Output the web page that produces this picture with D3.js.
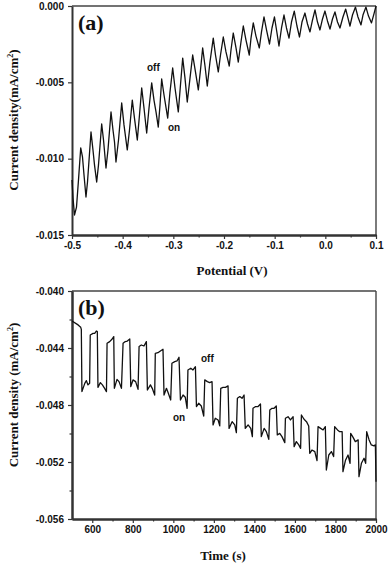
<!DOCTYPE html>
<html>
<head>
<meta charset="utf-8">
<script src="https://cdn.jsdelivr.net/npm/d3@7"></script>
<style>
    body { margin: 0; background: #fff; }
    .tick text { font-family: Arial, "Liberation Sans", sans-serif; font-weight: bold; font-size: 10px; fill: #111; }
    .axis path { stroke: #333; stroke-width: 2; }
    .axis line { stroke: #333; stroke-width: 1.2; }
    .frame { stroke: #444; stroke-width: 1.4; }
    .ttl { font-family: "Times New Roman", "Liberation Serif", serif; font-weight: bold; fill: #111; }
    .note { font-family: Arial, "Liberation Sans", sans-serif; font-weight: bold; font-size: 10px; fill: #111; }
</style>
</head>
<body>
<div id="chart"></div>
<script>

// ---- panel (a): current density vs potential, light chopped on/off ----
const potentialA = [
    -0.5000, -0.4980, -0.4951, -0.4911, -0.4872, -0.4828, -0.4793, -0.4763, -0.4724, -0.4694,
    -0.4625, -0.4586, -0.4556, -0.4513, -0.4477, -0.4414, -0.4378, -0.4329, -0.4290, -0.4230,
    -0.4191, -0.4161, -0.4132, -0.4082, -0.4019, -0.3974, -0.3909, -0.3865, -0.3810, -0.3767,
    -0.3711, -0.3668, -0.3624, -0.3579, -0.3526, -0.3480, -0.3427, -0.3382, -0.3342, -0.3297,
    -0.3263, -0.3230, -0.3184, -0.3111, -0.3066, -0.3013, -0.2967, -0.2902, -0.2859, -0.2815,
    -0.2770, -0.2725, -0.2671, -0.2618, -0.2563, -0.2507, -0.2464, -0.2421, -0.2375, -0.2330,
    -0.2277, -0.2212, -0.2168, -0.2113, -0.2069, -0.2014, -0.1961, -0.1896, -0.1862, -0.1817,
    -0.1763, -0.1718, -0.1665, -0.1619, -0.1566, -0.1501, -0.1467, -0.1422, -0.1369, -0.1303,
    -0.1260, -0.1211, -0.1161, -0.1102, -0.1053, -0.1004, -0.0954, -0.0915, -0.0865, -0.0816,
    -0.0767, -0.0717, -0.0668, -0.0613, -0.0560, -0.0510, -0.0461, -0.0402, -0.0352, -0.0303,
    -0.0254, -0.0204, -0.0155, -0.0106, -0.0056, -0.0007, 0.0042, 0.0092, 0.0141, 0.0190,
    0.0240, 0.0289, 0.0348, 0.0402, 0.0447, 0.0486, 0.0536, 0.0595, 0.0644, 0.0704,
    0.0743, 0.0802, 0.0852, 0.0911, 0.0960, 0.1000
];
const currentA = [
    -0.01140, -0.01258, -0.01369, -0.01317, -0.01140, -0.00930, -0.00989, -0.01107, -0.01251, -0.01153,
    -0.00825, -0.00943, -0.01041, -0.01153, -0.01041, -0.00773, -0.00878, -0.01061, -0.00943, -0.00694,
    -0.00812, -0.00891, -0.01022, -0.00878, -0.00635, -0.00779, -0.00943, -0.00812, -0.00616, -0.00734,
    -0.00878, -0.00714, -0.00537, -0.00668, -0.00832, -0.00668, -0.00504, -0.00616, -0.00694, -0.00793,
    -0.00648, -0.00478, -0.00583, -0.00734, -0.00563, -0.00406, -0.00537, -0.00694, -0.00517, -0.00341,
    -0.00472, -0.00629, -0.00472, -0.00321, -0.00432, -0.00550, -0.00419, -0.00275, -0.00393, -0.00524,
    -0.00367, -0.00210, -0.00321, -0.00432, -0.00321, -0.00203, -0.00301, -0.00393, -0.00288, -0.00177,
    -0.00275, -0.00367, -0.00236, -0.00131, -0.00223, -0.00321, -0.00210, -0.00111, -0.00197, -0.00275,
    -0.00170, -0.00072, -0.00157, -0.00249, -0.00144, -0.00072, -0.00177, -0.00262, -0.00144, -0.00059,
    -0.00144, -0.00210, -0.00105, -0.00033, -0.00131, -0.00203, -0.00105, -0.00046, -0.00118, -0.00170,
    -0.00092, -0.00026, -0.00105, -0.00157, -0.00085, -0.00033, -0.00098, -0.00151, -0.00085, -0.00039,
    -0.00105, -0.00144, -0.00072, -0.00020, -0.00079, -0.00131, -0.00059, -0.00007, -0.00072, -0.00124,
    -0.00059, -0.00007, -0.00066, -0.00111, -0.00052, 0.00000
];
const xTicksA = [-0.5, -0.4, -0.3, -0.2, -0.1, 0.0, 0.1];
const xMinorA = [-0.45, -0.35, -0.25, -0.15, -0.05, 0.05];
const yTicksA = [0.000, -0.005, -0.010, -0.015];

// ---- panel (b): current density vs time ----
const timeB = [
    500, 530, 543, 546,
    549, 563, 571, 579, 587,   590, 604, 612, 620, 625,
    628, 640, 650, 661, 670,   673, 686, 697, 706,
    709, 722, 732, 744,        752, 763, 773, 785,
    790, 801, 814, 826,        831, 842, 855, 867,
    872, 887, 896, 908,        911, 924, 938, 949,
    954, 966, 974, 987,        993, 1007, 1018, 1028,
    1035, 1048, 1059, 1068,    1072, 1086, 1097, 1109,
    1114, 1125, 1138, 1150,    1155, 1168, 1179, 1191,
    1196, 1207, 1221, 1229,    1234, 1245, 1257, 1270,
    1275, 1290, 1303, 1311,    1316, 1328, 1339, 1349,
    1355, 1369, 1382, 1390,    1393, 1406, 1418, 1430,
    1434, 1448, 1459, 1471,    1476, 1487, 1497, 1508,
    1513, 1525, 1536, 1550,    1553, 1566, 1578, 1591,
    1596, 1607, 1619, 1628,    1632, 1645, 1657, 1668,
    1673, 1684, 1698, 1709,    1714, 1727, 1739, 1750,
    1755, 1767, 1780, 1791,    1796, 1810, 1821, 1833,
    1837, 1849, 1862, 1872,    1875, 1887, 1898, 1912,
    1916, 1928, 1941, 1949,    1954, 1966, 1977, 1990, 1997,
    2000
];
const currentB = [
    -0.04210, -0.04238, -0.04255, -0.04269,
    -0.04706, -0.04648, -0.04629, -0.04659, -0.04648,   -0.04309, -0.04297, -0.04297, -0.04281, -0.04285,
    -0.04676, -0.04643, -0.04659, -0.04683, -0.04706,   -0.04367, -0.04355, -0.04339, -0.04320,
    -0.04683, -0.04620, -0.04636, -0.04683,             -0.04367, -0.04355, -0.04351, -0.04337,
    -0.04671, -0.04624, -0.04636, -0.04690,             -0.04390, -0.04379, -0.04386, -0.04355,
    -0.04695, -0.04659, -0.04683, -0.04730,             -0.04437, -0.04433, -0.04419, -0.04409,
    -0.04730, -0.04683, -0.04713, -0.04765,             -0.04507, -0.04496, -0.04491, -0.04465,
    -0.04765, -0.04730, -0.04746, -0.04823,             -0.04554, -0.04542, -0.04554, -0.04531,
    -0.04811, -0.04788, -0.04807, -0.04877,             -0.04624, -0.04636, -0.04643, -0.04636,
    -0.04940, -0.04893, -0.04905, -0.04947,             -0.04683, -0.04676, -0.04676, -0.04666,
    -0.04964, -0.04917, -0.04940, -0.04994,             -0.04753, -0.04741, -0.04753, -0.04730,
    -0.04964, -0.04940, -0.04964, -0.05022,             -0.04823, -0.04811, -0.04811, -0.04793,
    -0.05022, -0.04964, -0.04987, -0.05041,             -0.04835, -0.04823, -0.04823, -0.04807,
    -0.05010, -0.04999, -0.05022, -0.05064,             -0.04893, -0.04882, -0.04905, -0.04882,
    -0.05092, -0.05057, -0.05080, -0.05104,             -0.04870, -0.04900, -0.04917, -0.04947,
    -0.05139, -0.05116, -0.05127, -0.05190,             -0.04952, -0.04964, -0.04975, -0.04952,
    -0.05256, -0.05151, -0.05127, -0.05162,             -0.04952, -0.04975, -0.04987, -0.04987,
    -0.05268, -0.05190, -0.05151, -0.05209,             -0.04999, -0.05027, -0.05057, -0.05045,
    -0.05303, -0.05209, -0.05174, -0.05209,             -0.04987, -0.05045, -0.05080, -0.05087, -0.05080,
    -0.05338
];
const xTicksB = [600, 800, 1000, 1200, 1400, 1600, 1800, 2000];
const xMinorB = [700, 900, 1100, 1300, 1500, 1700, 1900];
const yTicksB = [-0.040, -0.044, -0.048, -0.052, -0.056];
const yMinorB = [-0.042, -0.046, -0.050, -0.054];

const svg = d3.select("#chart").append("svg")
    .attr("width", 389)
    .attr("height", 565);

function drawPanel(p) {
    let g = svg.append("g").attr("transform", "translate(" + p.left + "," + p.top + ")");

    let x = d3.scaleLinear().domain(p.xDomain).range([0, p.width]);
    let y = d3.scaleLinear().domain(p.yDomain).range([p.height, 0]);

    // top and right border
    g.append("line").attr("class", "frame")
        .attr("x1", 0).attr("x2", p.width).attr("y1", 0).attr("y2", 0);
    g.append("line").attr("class", "frame")
        .attr("x1", p.width).attr("x2", p.width).attr("y1", 0).attr("y2", p.height);

    // minor ticks
    if (p.xMinor) {
        g.append("g").attr("class", "axis")
            .attr("transform", "translate(0," + p.height + ")")
            .call(d3.axisBottom(x).tickValues(p.xMinor).tickSize(2.5).tickSizeOuter(0).tickFormat(""));
    }
    if (p.yMinor) {
        g.append("g").attr("class", "axis")
            .call(d3.axisLeft(y).tickValues(p.yMinor).tickSize(2.5).tickSizeOuter(0).tickFormat(""));
    }

    g.append("g").attr("class", "axis")
        .attr("transform", "translate(0," + p.height + ")")
        .call(d3.axisBottom(x).tickValues(p.xTicks).tickSize(4).tickSizeOuter(0).tickPadding(3).tickFormat(p.xFormat));

    g.append("g").attr("class", "axis")
        .call(d3.axisLeft(y).tickValues(p.yTicks).tickSize(4).tickSizeOuter(0).tickPadding(4).tickFormat(d => d.toFixed(3)));

    let line = d3.line()
        .x((d, i) => x(p.xs[i]))
        .y((d, i) => y(p.ys[i]));

    g.append("path")
        .datum(p.xs)
        .attr("d", line)
        .attr("fill", "none")
        .attr("stroke", "#111")
        .attr("stroke-width", 1.3)
        .attr("stroke-linejoin", "round");

    // panel letter
    g.append("text").attr("class", "ttl")
        .attr("x", 6).attr("y", p.letterY)
        .style("font-size", "22px")
        .text(p.letter);

    // axis titles
    g.append("text").attr("class", "ttl")
        .attr("x", p.xTitleX).attr("y", p.xTitleY)
        .style("font-size", "13px")
        .style("text-anchor", "middle")
        .text(p.xTitle);

    let yt = g.append("text").attr("class", "ttl")
        .attr("transform", "translate(" + (18 - p.left) + "," + p.yTitleY + ") rotate(-90)")
        .style("font-size", "13px")
        .style("text-anchor", "middle");
    yt.append("tspan").text(p.yTitle);
    yt.append("tspan").attr("dy", -5).style("font-size", "8px").text("2");
    yt.append("tspan").attr("dy", 5).text(")");

    // on / off notes
    p.notes.forEach(n => {
        g.append("text").attr("class", "note")
            .attr("x", n.x - p.left).attr("y", n.y - p.top)
            .text(n.label);
    });
}

drawPanel({
    left: 72, top: 6, width: 304, height: 229,
    xDomain: [-0.5, 0.1], yDomain: [-0.015, 0],
    xs: potentialA, ys: currentA,
    xTicks: xTicksA, xMinor: xMinorA, yTicks: yTicksA,
    xFormat: d => d.toFixed(1),
    letter: "(a)", letterY: 24,
    xTitle: "Potential (V)", xTitleX: 160, xTitleY: 269,
    yTitle: "Current density(mA/cm", yTitleY: 114,
    notes: [{label: "off", x: 147, y: 71}, {label: "on", x: 168, y: 131}]
});

drawPanel({
    left: 72, top: 291, width: 304, height: 228,
    xDomain: [500, 2000], yDomain: [-0.056, -0.040],
    xs: timeB, ys: currentB,
    xTicks: xTicksB, xMinor: xMinorB, yTicks: yTicksB, yMinor: yMinorB,
    xFormat: d => d.toString(),
    letter: "(b)", letterY: 24,
    xTitle: "Time (s)", xTitleX: 151, xTitleY: 269,
    yTitle: "Current density (mA/cm", yTitleY: 104,
    notes: [{label: "off", x: 201, y: 362}, {label: "on", x: 173, y: 421}]
});

</script>
</body>
</html>
